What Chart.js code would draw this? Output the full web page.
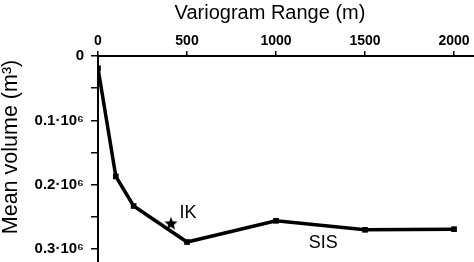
<!DOCTYPE html>
<html><head><meta charset="utf-8">
<script src="https://cdn.jsdelivr.net/npm/chart.js@4.4.1/dist/chart.umd.min.js"></script>
<style>html,body{margin:0;padding:0;background:#fff}#wrap{width:474px;height:262px}</style>
</head><body><div id="wrap"><canvas id="c"></canvas></div>
<script>
// Data
const ranges = [0, 100, 200, 500, 1000, 1500, 2000];
const sisVolume = [19000, 187000, 233000, 289000, 256000, 270000, 269000];
const ikRange = [410];
const ikVolume = [260000];
const xTickValues = [0, 500, 1000, 1500, 2000];
const yTickValues = [0, 50000, 100000, 150000, 200000, 250000, 300000];
const yTickLabels = {0: '0', 100000: '0.1·10⁶', 200000: '0.2·10⁶', 300000: '0.3·10⁶'};
const notes = [{text: 'IK', x: 505, y: 244000}, {text: 'SIS', x: 1265, y: 291000}];

// star marker image
function starImage(size) {
  const cv = document.createElement('canvas');
  cv.width = size; cv.height = size;
  const g = cv.getContext('2d');
  const cx = size / 2, cy = size / 2 + 0.5, R = size / 2, r = R * 0.42;
  g.beginPath();
  for (let i = 0; i < 10; i++) {
    const a = -Math.PI / 2 + i * Math.PI / 5;
    const rr = i % 2 ? r : R;
    g.lineTo(cx + rr * Math.cos(a), cy + rr * Math.sin(a));
  }
  g.closePath(); g.fillStyle = '#000'; g.fill();
  return cv;
}

const font = 'Arial, "Liberation Sans", sans-serif';

const notesPlugin = {
  id: 'notes',
  afterDraw(chart) {
    const {ctx, scales} = chart;
    ctx.save();
    ctx.fillStyle = '#000';
    ctx.font = '18px ' + font;
    ctx.textAlign = 'center'; ctx.textBaseline = 'middle';
    notes.forEach(n => ctx.fillText(n.text, scales.x.getPixelForValue(n.x), scales.y.getPixelForValue(n.y)));
    // axis titles
    ctx.font = '20px ' + font;
    ctx.fillText('Variogram Range (m)', 270, 13);
    ctx.translate(11, 147);
    ctx.rotate(-Math.PI / 2);
    ctx.font = '21.5px ' + font;
    ctx.fillText('Mean volume (m³)', 0, 0);
    ctx.restore();
  }
};

new Chart(document.getElementById('c'), {
  type: 'line',
  data: {
    datasets: [
      {
        label: 'SIS',
        data: ranges.map((x, i) => ({x, y: sisVolume[i]})),
        borderColor: '#000', borderWidth: 3.5,
        pointStyle: 'rect', pointRadius: 4, pointBackgroundColor: '#000', pointBorderColor: '#000', pointBorderWidth: 0,
        tension: 0
      },
      {
        label: 'IK',
        data: ikRange.map((x, i) => ({x, y: ikVolume[i]})),
        showLine: false,
        pointStyle: starImage(14), pointRadius: 7
      }
    ]
  },
  options: {
    responsive: true, maintainAspectRatio: false, animation: false,
    layout: {padding: 0, autoPadding: false},
    plugins: {legend: {display: false}, tooltip: {enabled: false}},
    scales: {
      x: {
        type: 'linear', position: 'top', min: 0, max: 2112,
        afterBuildTicks: s => { s.ticks = xTickValues.map(v => ({value: v})); },
        afterFit: s => { s.height = 56; s.paddingLeft = 0; s.paddingRight = 0; },
        grid: {display: true, drawOnChartArea: false, drawTicks: true, tickLength: 5, color: '#000', lineWidth: 1.5},
        border: {display: true, color: '#000', width: 2},
        ticks: {color: '#000', font: {family: font, size: 14, weight: 'bold'}, padding: 1, maxRotation: 0, autoSkip: false,
          callback: v => String(v)}
      },
      y: {
        type: 'linear', reverse: true, min: 0, max: 320000,
        afterBuildTicks: s => { s.ticks = yTickValues.map(v => ({value: v})); },
        afterFit: s => { s.width = 98; s.paddingTop = 0; s.paddingBottom = 0; },
        grid: {display: true, drawOnChartArea: false, drawTicks: true, tickLength: 7, color: '#000', lineWidth: 1.5},
        border: {display: true, color: '#000', width: 2},
        ticks: {color: '#000', font: {family: font, size: 15, weight: 'bold'}, padding: 7, autoSkip: false,
          callback: v => yTickLabels[v] !== undefined ? yTickLabels[v] : ''}
      }
    }
  },
  plugins: [notesPlugin]
});
</script></body></html>
